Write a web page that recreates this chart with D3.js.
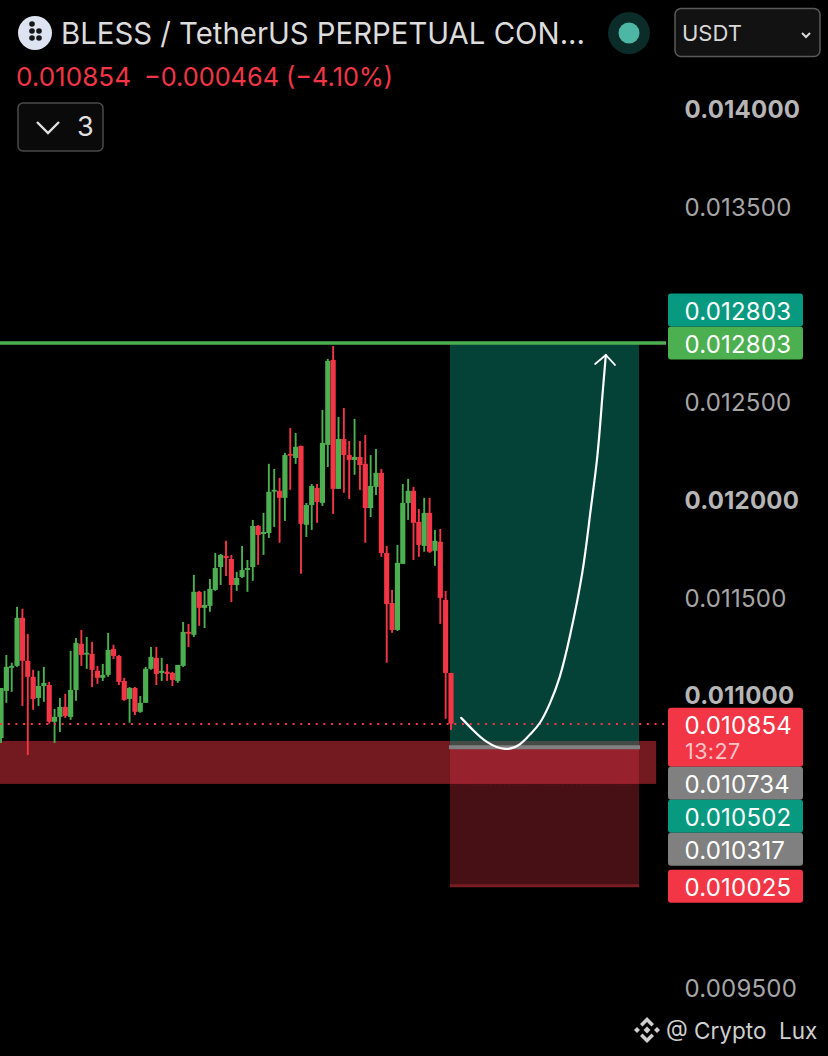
<!DOCTYPE html>
<html><head><meta charset="utf-8">
<script src="https://cdn.jsdelivr.net/npm/d3@7/dist/d3.min.js"></script>
<style>html,body{margin:0;background:#000}svg{display:block}text{font-family:Inter,Roboto,"Noto Sans",sans-serif}</style>
</head><body><div id="c"></div>
<script>
// Prices in millionths of USDT
const opens=[10781,11022,11140,11150,11396,11176,11094,10986,11047,11052,
10864,10889,10940,10889,11027,11263,11212,11212,11125,11089,
11104,11237,11201,11073,10981,11037,10915,10961,11135,11191,
11114,11120,11114,11073,11150,11324,11309,11529,11447,11457,
11539,11656,11713,11697,11564,11605,11641,11656,11866,11825,
11830,12046,12046,12010,12235,12214,12276,11872,11973,12061,
11984,12281,12716,12056,12311,12229,12204,12219,12184,11958,
12066,12138,11728,11472,11334,11672,11984,12046,11887,11764,
11933,11739,11785,11488,11114];
const highs=[11037,11206,11166,11452,11442,11314,11130,11125,11145,11068,
10930,10986,11007,11227,11293,11334,11298,11273,11150,11160,
11319,11258,11206,11089,11042,11042,10996,11145,11247,11247,
11191,11160,11120,11155,11375,11365,11616,11534,11534,11595,
11728,11723,11790,11718,11631,11764,11692,11897,11871,11933,
12184,12158,12112,12240,12368,12342,12276,11984,12081,12081,
12460,12721,12787,12424,12470,12301,12414,12301,12332,12229,
12260,12158,11764,11539,11769,12081,12107,12066,11953,12010,
12010,11846,11851,11534,11114];
const lows=[10756,10961,11017,11145,10945,10694,10925,10945,10966,10854,
10756,10812,10884,10874,10971,11150,11135,11042,11058,11073,
11094,11186,11052,10971,10859,10899,10910,10961,11130,11052,
11073,11073,11047,11063,11145,11247,11298,11355,11344,11427,
11534,11564,11610,11477,11534,11600,11529,11585,11667,11718,
11805,11861,11780,11892,12051,12184,11621,11810,11846,11882,
11969,12168,11928,12056,12036,12004,12128,12051,11780,11912,
12025,11708,11166,11319,11329,11672,11897,11692,11708,11734,
11728,11662,11365,10879,10822];
const closes=[11037,11145,11150,11396,11176,11094,10981,11047,11063,10864,
10889,10940,10894,11027,11268,11206,11217,11130,11089,11104,
11232,11201,11068,10976,11037,10915,10961,11135,11196,11109,
11125,11109,11078,11155,11324,11319,11529,11447,11462,11544,
11651,11718,11702,11564,11600,11641,11651,11866,11820,11835,
12041,12051,12010,12229,12229,12271,11877,11973,12071,11989,
12291,12711,12056,12311,12229,12204,12219,12178,11958,12071,
12138,11728,11467,11334,11677,11984,12046,11882,11769,11933,
11734,11790,11498,11114,10854];
const tickValues=[14000,13500,12500,12000,11500,11000,9500];
const boldTicks=[14000,12000,11000];
const lastPrice=10854, targetPrice=12803, entryPrice=10734, stopPrice=10025;
const zonePrices=[10766,10546];
const positionBars=[83.8,119.1];
const zoneBars=[-0.2,122.3];
const curveBars=[85.9,88.1,90.7,94.1,96.9,98.7,100.6,102.5,104.3,106.2,108.5,110,111.3,112.2,112.9];
const curvePrices=[10884,10822,10761,10725,10750,10797,10859,10961,11094,11303,11626,11933,12219,12511,12741];
const arrowBars=[110.9,112.9,114.6];
const arrowPrices=[12695,12741,12690];
const topTags=[{t:"0.012803",c:"#089981"},{t:"0.012803",c:"#4CAF50"}];
const lowTags=[{t:"0.010854",sub:"13:27",c:"#F23645"},{t:"0.010734",c:"#808080"},{t:"0.010502",c:"#089981"},{t:"0.010317",c:"#808080"}];
const stopTag={t:"0.010025",c:"#F23645"};
const GREEN="#4CAF50",RED="#F23645";

const W=828,H=1056;
const svg=d3.select("#c").append("svg").attr("width",W).attr("height",H);
svg.append("rect").attr("width",W).attr("height",H).attr("fill","#000");
const x=d3.scaleLinear().domain([0,84]).range([1,451]);
const y=d3.scaleLinear().domain([14000,9500]).range([109,988.3]);
const step=x(1)-x(0);
const mono='Inter,Roboto,sans-serif';

// position boxes
const px0=x(positionBars[0]),px1=x(positionBars[1]);
const box=(x0,x1,p0,p1,fill)=>svg.append("rect").attr("x",x0).attr("width",x1-x0).attr("y",y(p0)).attr("height",y(p1)-y(p0)).attr("fill",fill);
box(px0,px1,targetPrice,entryPrice,"rgb(4,66,56)");
box(px0,px1,entryPrice,stopPrice,"rgb(71,16,21)");
svg.append("line").attr("x1",px0).attr("x2",px1).attr("y1",y(stopPrice)).attr("y2",y(stopPrice)).attr("stroke","#7a1c24").attr("stroke-width",3);

// candles
const idx=d3.range(opens.length);
const col=i=>closes[i]>=opens[i]?GREEN:RED;
const g=svg.append("g");
g.selectAll("line").data(idx).join("line").attr("x1",x).attr("x2",x)
 .attr("y1",i=>y(highs[i])).attr("y2",i=>y(lows[i])).attr("stroke",col).attr("stroke-width",1.9);
g.selectAll("rect").data(idx).join("rect").attr("x",i=>x(i)-step/2+0.1).attr("width",step-0.2)
 .attr("y",i=>y(Math.max(opens[i],closes[i])))
 .attr("height",i=>Math.max(1.8,Math.abs(y(opens[i])-y(closes[i])))).attr("fill",col);

// support zone: plain part, then its overlaps with the two position boxes
const zx0=x(zoneBars[0]),zx1=x(zoneBars[1]);
box(zx0,px0,zonePrices[0],zonePrices[1],"rgb(114,26,32)");
box(px1,zx1,zonePrices[0],zonePrices[1],"rgb(114,26,32)");
box(px0,px1,zonePrices[0],entryPrice,"#444b46");
box(px0,px1,entryPrice,zonePrices[1],"rgb(151,33,44)");
// candle wicks that reach into the zone stay on top
g.raise();
svg.append("line").attr("x1",px0).attr("x2",px1).attr("y1",y(zonePrices[1])+1.5).attr("y2",y(zonePrices[1])+1.5)
 .attr("stroke","#5a161c").attr("stroke-width",1).attr("stroke-dasharray","1.5 3");
// entry
svg.append("line").attr("x1",px0-1).attr("x2",px1+1).attr("y1",y(entryPrice)).attr("y2",y(entryPrice)).attr("stroke","#808080").attr("stroke-width",4);
// last price dotted
svg.append("line").attr("x1",0).attr("x2",668).attr("y1",y(lastPrice)+0.2).attr("y2",y(lastPrice)+0.2)
 .attr("stroke",RED).attr("stroke-width",2).attr("stroke-dasharray","2 5.7");
// target line
svg.append("line").attr("x1",0).attr("x2",666).attr("y1",y(targetPrice)).attr("y2",y(targetPrice)).attr("stroke",GREEN).attr("stroke-width",3.5);

// hand-drawn curve
const line=d3.line().x(d=>x(d[0])).y(d=>y(d[1])).curve(d3.curveNatural);
svg.append("path").attr("d",line(curveBars.map((b,i)=>[b,curvePrices[i]]))).attr("fill","none").attr("stroke","#fff").attr("stroke-width",2.2).attr("stroke-linecap","round");
svg.append("path").attr("d",d3.line().x(d=>x(d[0])).y(d=>y(d[1]))(arrowBars.map((b,i)=>[b,arrowPrices[i]]))).attr("fill","none").attr("stroke","#fff").attr("stroke-width",1.8).attr("stroke-linecap","round");

// axis
const axis=d3.axisRight(y).tickValues(tickValues).tickSize(0).tickPadding(0).tickFormat(d=>(d/1e6).toFixed(6));
const ag=svg.append("g").attr("transform","translate(684.5,0)").call(axis);
ag.select(".domain").remove();
ag.selectAll("text").attr("fill",d=>boldTicks.includes(d)?"#b6b6b6":"#a6a6a6").attr("font-size",24)
  .attr("font-weight",d=>boldTicks.includes(d)?700:400).attr("font-family",mono).attr("letter-spacing",0.2)
  .attr("dy","0.36em");

// price tags
function tag(t,top,h){
  svg.append("rect").attr("x",668).attr("y",top).attr("width",135).attr("height",h).attr("rx",3).attr("fill",t.c);
  svg.append("text").attr("x",684.5).attr("y",top+17.8).attr("dy","0.36em").attr("fill","#fff").attr("font-size",24).attr("letter-spacing",0.2).text(t.t);
  if(t.sub) svg.append("text").attr("x",685).attr("y",top+44).attr("dy","0.36em").attr("fill","#ffc4c9").attr("font-size",21.5).attr("letter-spacing",0.4).text(t.sub);
}
let topY=y(targetPrice)-16.5;
[topTags[1],topTags[0]].forEach(t=>{tag(t,topY,33);topY-=33;});
let lowY=y(lastPrice)-16;
lowTags.forEach(t=>{const h=t.sub?59:33;tag(t,lowY,h);lowY+=h;});
tag(stopTag,y(stopPrice)-16,33);

// header
const ic=svg.append("g");
ic.append("circle").attr("cx",35).attr("cy",33).attr("r",17).attr("fill","#dde3f0");
[[32,24],[32,31],[39,31],[32,38],[39,38]].forEach(p=>ic.append("circle").attr("cx",p[0]).attr("cy",p[1]).attr("r",2.8).attr("fill","#14161c"));
svg.append("text").attr("x",61).attr("y",44).attr("fill","#dcdcdc").attr("font-size",30).attr("font-family","Roboto,sans-serif").attr("textLength",524).attr("lengthAdjust","spacingAndGlyphs").text("BLESS / TetherUS PERPETUAL CON...");
svg.append("circle").attr("cx",629).attr("cy",33).attr("r",21).attr("fill","#0b2c28");
svg.append("circle").attr("cx",629).attr("cy",33).attr("r",10.5).attr("fill","#4DB6A4");
svg.append("rect").attr("x",675).attr("y",8.5).attr("width",145).attr("height",48).attr("rx",6).attr("fill","#121212").attr("stroke","#5a5a5a").attr("stroke-width",1.5);
svg.append("text").attr("x",682).attr("y",41).attr("fill","#d8d8d8").attr("font-size",22).attr("font-family","Roboto,sans-serif").text("USDT");
svg.append("path").attr("d","M802 33l4 4l4-4").attr("fill","none").attr("stroke","#d8d8d8").attr("stroke-width",2);
svg.append("text").attr("x",16).attr("y",86).attr("fill",RED).attr("font-size",26).attr("font-family","Roboto,sans-serif").attr("textLength",115).attr("lengthAdjust","spacingAndGlyphs").text("0.010854");
svg.append("text").attr("x",144).attr("y",86).attr("fill",RED).attr("font-size",26).attr("font-family","Roboto,sans-serif").attr("textLength",249).attr("lengthAdjust","spacingAndGlyphs").text("\u22120.000464 (\u22124.10%)");
svg.append("rect").attr("x",18).attr("y",103).attr("width",85).attr("height",48).attr("rx",5).attr("fill","#0a0a0a").attr("stroke","#4a4a4a").attr("stroke-width",1.5);
svg.append("path").attr("d","M37 122l11 11l11-11").attr("fill","none").attr("stroke","#e0e0e0").attr("stroke-width",2.4);
svg.append("text").attr("x",77).attr("y",136).attr("fill","#e0e0e0").attr("font-size",27).attr("font-family","Roboto,sans-serif").text("3");

// watermark (exchange logo + handle)
const wm=svg.append("g").attr("fill","#cfcfcf").attr("transform","translate(647,1030)");
["M0 -13L7 -6L4.5 -3.5L0 -8L-4.5 -3.5L-7 -6Z","M0 13L7 6L4.5 3.5L0 8L-4.5 3.5L-7 6Z","M-10 -3L-7 0L-10 3L-13 0Z","M10 -3L13 0L10 3L7 0Z","M0 -3.5L3.5 0L0 3.5L-3.5 0Z"].forEach(d=>wm.append("path").attr("d",d));
svg.append("text").attr("x",666).attr("y",1039).attr("fill","#cfcfcf").attr("font-size",22.5).attr("font-family","Roboto,sans-serif").style("white-space","pre").text("@ Crypto  Lux");
</script></body></html>
